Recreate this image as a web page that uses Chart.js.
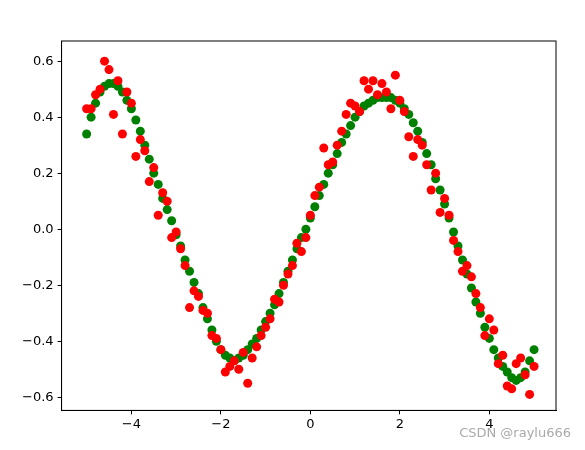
<!DOCTYPE html>
<html><head><meta charset="utf-8">
<script src="https://cdn.jsdelivr.net/npm/chart.js@4"></script>
<style>body{margin:0;background:#fff}#w{position:relative;width:585px;height:450px}
#wm{position:absolute;right:14px;bottom:10px;font:13px "DejaVu Sans";color:#aaa}</style>
</head><body><div id="w"><canvas id="c" width="585" height="450"></canvas><div id="wm">CSDN @raylu666</div></div>
<script>
const xs = [];
for (let i = 0; i <= 100; i++) xs.push(-5 + i * 0.1);
const green = [0.34,0.40,0.45,0.49,0.51,0.52,0.52,0.51,0.49,0.46,0.43,0.39,0.35,0.30,0.25,0.20,0.16,0.11,0.07,0.03,-0.02,-0.06,-0.11,-0.15,-0.19,-0.23,-0.28,-0.32,-0.36,-0.40,-0.43,-0.45,-0.46,-0.47,-0.46,-0.45,-0.43,-0.41,-0.39,-0.36,-0.33,-0.30,-0.27,-0.23,-0.19,-0.15,-0.11,-0.07,-0.03,0.00,0.04,0.08,0.12,0.16,0.20,0.23,0.27,0.31,0.34,0.37,0.40,0.42,0.44,0.45,0.46,0.47,0.47,0.47,0.47,0.46,0.45,0.43,0.41,0.38,0.35,0.31,0.27,0.23,0.18,0.14,0.09,0.04,-0.01,-0.06,-0.11,-0.16,-0.21,-0.26,-0.30,-0.35,-0.39,-0.43,-0.46,-0.49,-0.51,-0.53,-0.54,-0.53,-0.51,-0.47,-0.43];
const red = [0.43,0.43,0.48,0.50,0.60,0.57,0.41,0.53,0.34,0.49,0.45,0.26,0.32,0.28,0.17,0.22,0.05,0.13,0.10,-0.03,-0.01,-0.07,-0.13,-0.28,-0.22,-0.24,-0.29,-0.30,-0.38,-0.39,-0.43,-0.51,-0.49,-0.47,-0.50,-0.44,-0.55,-0.46,-0.42,-0.38,-0.35,-0.32,-0.25,-0.26,-0.20,-0.16,-0.13,-0.05,-0.08,-0.03,0.05,0.12,0.15,0.29,0.23,0.24,0.30,0.35,0.41,0.45,0.44,0.42,0.53,0.50,0.53,0.48,0.52,0.49,0.43,0.55,0.46,0.42,0.33,0.26,0.32,0.30,0.23,0.14,0.20,0.06,0.11,0.05,-0.04,-0.08,-0.15,-0.13,-0.17,-0.23,-0.28,-0.38,-0.32,-0.36,-0.48,-0.45,-0.56,-0.57,-0.48,-0.46,-0.52,-0.59,-0.49];
const xTicks = [-4,-2,0,2,4];
const yTicks = [-0.6,-0.4,-0.2,0,0.2,0.4,0.6];
const pts = a => xs.map((x,i)=>({x, y:a[i]}));
const font = {family:'DejaVu Sans', size:13};
const grid = {drawOnChartArea:false, drawTicks:true, tickLength:4, tickColor:'#000'};
new Chart(document.getElementById('c'), {
  type:'scatter',
  data:{datasets:[
    {data:pts(red), backgroundColor:'#ff0000', borderWidth:0, pointRadius:4.5},
    {data:pts(green), backgroundColor:'#008000', borderWidth:0, pointRadius:4.5}
  ]},
  options:{responsive:false, animation:false, events:[],
    layout:{padding:{left:18,right:29,top:41,bottom:16}},
    plugins:{legend:{display:false}, tooltip:{enabled:false}},
    scales:{
      x:{min:-5.56,max:5.49, afterBuildTicks:s=>{s.ticks=xTicks.map(v=>({value:v}));},
        grid, border:{color:'#000'},
        ticks:{font, color:'#000', padding:2, callback:v=>String(v).replace('-','−')}},
      y:{min:-0.647,max:0.672, afterBuildTicks:s=>{s.ticks=yTicks.map(v=>({value:v}));},
        grid, border:{color:'#000'},
        ticks:{font, color:'#000', padding:4, callback:v=>v.toFixed(1).replace('-','−')}}
    }
  },
  plugins:[{id:'frame',afterDraw(c){const a=c.chartArea,x=c.ctx;x.save();x.strokeStyle='#000';x.lineWidth=1;x.strokeRect(a.left,a.top,a.right-a.left,a.bottom-a.top);x.restore();}}]
});
</script></body></html>
